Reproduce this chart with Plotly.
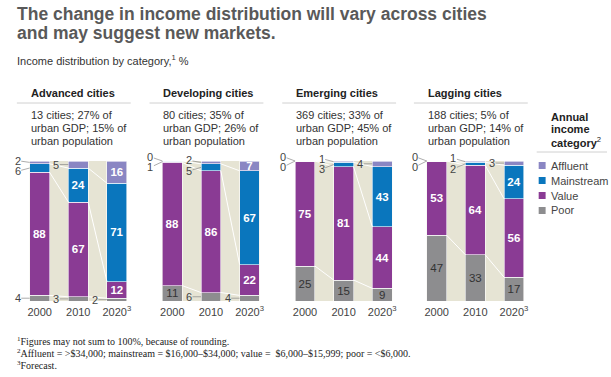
import plotly.graph_objects as go

# ---------------- data ----------------
panel_titles = ["Advanced cities", "Developing cities", "Emerging cities", "Lagging cities"]
panel_notes = [
    ["13 cities; 27% of", "urban GDP; 15% of", "urban population"],
    ["80 cities; 35% of", "urban GDP; 26% of", "urban population"],
    ["369 cities; 33% of", "urban GDP; 45% of", "urban population"],
    ["188 cities; 5% of", "urban GDP; 14% of", "urban population"],
]
years = ["2000", "2010", "2020<sup>3</sup>"]
categories = ["Poor", "Value", "Mainstream", "Affluent"]  # bottom to top
poor = [[4, 3, 2], [11, 6, 4], [25, 15, 9], [47, 33, 17]]
value = [[88, 67, 12], [88, 86, 22], [75, 81, 44], [53, 64, 56]]
mainstream = [[6, 24, 71], [1, 5, 67], [0, 3, 43], [0, 2, 24]]
affluent = [[2, 5, 16], [0, 2, 7], [0, 1, 4], [0, 1, 3]]
legend_labels = ["Affluent", "Mainstream", "Value", "Poor"]

# ---------------- styles ----------------
W, H = 611, 377
FONT = "Liberation Sans, Arial, Helvetica, sans-serif"
SERIF = "Liberation Serif, Times New Roman, serif"
colors = {"Poor": "#8D8D8F", "Value": "#8A3B94", "Mainstream": "#0A76BD", "Affluent": "#8A86C3"}
BG = "#E6E4D4"
panel_left = [28, 162, 296, 429]
panel_w = 98
plot_top, plot_bot = 161, 301
bw = 20 / 39.0
px_per_unit = (plot_bot - plot_top) / 100.0
series = {"Poor": poor, "Value": value, "Mainstream": mainstream, "Affluent": affluent}


def px(x):
    return x / W


def py(y):
    return 1 - y / H


fig = go.Figure()
annotations = []
shapes = []
layout_axes = {}

for p in range(4):
    k = p + 1
    xa = "x" if k == 1 else f"x{k}"
    ya = "y" if k == 1 else f"y{k}"
    left = panel_left[p]
    layout_axes["xaxis" if k == 1 else f"xaxis{k}"] = dict(
        domain=[px(left), px(left + panel_w)], range=[-bw / 2, 2 + bw / 2],
        tickvals=[0, 1, 2], ticktext=years, showgrid=False, zeroline=False,
        showline=False, ticks="", ticklabelstandoff=3,
        tickfont=dict(family=FONT, size=11, color="#444"),
        anchor=ya, fixedrange=True)
    layout_axes["yaxis" if k == 1 else f"yaxis{k}"] = dict(
        domain=[py(plot_bot), py(plot_top)], range=[0, 100], showgrid=False,
        zeroline=False, showline=False, showticklabels=False, ticks="",
        anchor=xa, fixedrange=True)

    for c in categories:
        vals = series[c][p]
        is_poor = c == "Poor"
        fig.add_trace(go.Bar(
            x=[0, 1, 2], y=vals, width=bw, xaxis=xa, yaxis=ya,
            marker=dict(color=colors[c], line=dict(color="white", width=0.6)),
            text=[str(v) for v in vals],
            textposition=["inside" if v >= 7 else "none" for v in vals],
            insidetextanchor="middle", textangle=0,
            constraintext="none",
            textfont=dict(family=FONT, size=11.5,
                          color="#333" if is_poor else "white",
                          weight="normal" if is_poor else "bold"),
            showlegend=False, hoverinfo="skip", name=c))

    # normalised cumulative boundaries per bar
    cums = []
    centers = []
    for i in range(3):
        tot = sum(series[c][p][i] for c in categories)
        acc = 0.0
        cb, cc = [], {}
        for c in categories:
            v = series[c][p][i] / tot * 100
            cc[c] = acc + v / 2
            acc += v
            cb.append(acc)
        cums.append(cb)
        centers.append(cc)

    # white connector lines between bars
    for i in range(2):
        for j in range(3):
            shapes.append(dict(type="line", xref=xa, yref=ya,
                               x0=i + bw / 2, y0=cums[i][j], x1=i + 1 - bw / 2, y1=cums[i + 1][j],
                               line=dict(color="white", width=1), layer="above"))

    # outside labels for small values
    for i in range(3):
        small = {c: series[c][p][i] for c in categories if series[c][p][i] < 7}
        offs = {}
        if "Affluent" in small and "Mainstream" in small:
            ca = (100 - centers[i]["Affluent"]) * px_per_unit
            cm = (100 - centers[i]["Mainstream"]) * px_per_unit
            mid = (ca + cm) / 2
            offs["Affluent"] = (mid - 4.5) - ca
            offs["Mainstream"] = (mid + 6) - cm
        for c, v in small.items():
            annotations.append(dict(
                xref=xa, yref=ya, x=i - bw / 2, y=centers[i][c], text=str(v),
                showarrow=True, arrowhead=0, arrowwidth=0.7, arrowcolor="#888",
                ax=-12, ay=offs.get(c, 0), standoff=0, borderpad=0,
                font=dict(family=FONT, size=11, color="#444")))

    # panel title, rule and notes
    annotations.append(dict(xref="paper", yref="paper", x=px(left - 1), y=py(93),
                            xanchor="left", yanchor="middle", showarrow=False,
                            text=f"<b>{panel_titles[p]}</b>",
                            font=dict(family=FONT, size=11, color="#222")))
    shapes.append(dict(type="line", xref="paper", yref="paper",
                       x0=px(left - 13), x1=px(left + panel_w + 4), y0=py(103), y1=py(103),
                       line=dict(color="#d0d0d0", width=1)))
    for li, line in enumerate(panel_notes[p]):
        annotations.append(dict(xref="paper", yref="paper", x=px(left - 1), y=py(115 + 13 * li),
                                xanchor="left", yanchor="middle", showarrow=False, text=line,
                                font=dict(family=FONT, size=11, color="#333")))

# main title and subtitle
annotations.append(dict(xref="paper", yref="paper", x=px(13), y=py(14), xanchor="left",
                        yanchor="middle", showarrow=False,
                        text="<b>The change in income distribution will vary across cities</b>",
                        font=dict(family=FONT, size=17.5, color="#595959")))
annotations.append(dict(xref="paper", yref="paper", x=px(13), y=py(33), xanchor="left",
                        yanchor="middle", showarrow=False,
                        text="<b>and may suggest new markets.</b>",
                        font=dict(family=FONT, size=17.5, color="#595959")))
annotations.append(dict(xref="paper", yref="paper", x=px(13), y=py(60), xanchor="left",
                        yanchor="middle", showarrow=False,
                        text="Income distribution by category,<sup>1</sup> %",
                        font=dict(family=FONT, size=11, color="#333")))

# legend (manual)
for li, line in enumerate(["<b>Annual</b>", "<b>income</b>", "<b>category</b><sup>2</sup>"]):
    annotations.append(dict(xref="paper", yref="paper", x=px(552), y=py(117 + 12.5 * li),
                            xanchor="left", yanchor="middle", showarrow=False, text=line,
                            font=dict(family=FONT, size=11, color="#222")))
shapes.append(dict(type="line", xref="paper", yref="paper", x0=px(540), x1=px(611),
                   y0=py(152), y1=py(152), line=dict(color="#d0d0d0", width=1)))
for li, lab in enumerate(legend_labels):
    cy = 165.5 + 15 * li
    shapes.append(dict(type="rect", xref="paper", yref="paper", x0=px(542), x1=px(549),
                       y0=py(cy - 3.5), y1=py(cy + 3.5), fillcolor=colors[lab],
                       line=dict(width=0)))
    annotations.append(dict(xref="paper", yref="paper", x=px(552), y=py(cy), xanchor="left",
                            yanchor="middle", showarrow=False, text=lab,
                            font=dict(family=FONT, size=11, color="#444")))

# footnotes
footnotes = [
    "<sup>1</sup>Figures may not sum to 100%, because of rounding.",
    "<sup>2</sup>Affluent = &gt;$34,000; mainstream = $16,000–$34,000; value =  $6,000–$15,999; poor = &lt;$6,000.",
    "<sup>3</sup>Forecast.",
]
for li, t in enumerate(footnotes):
    annotations.append(dict(xref="paper", yref="paper", x=px(13), y=py(341 + 12 * li),
                            xanchor="left", yanchor="middle", showarrow=False, text=t,
                            font=dict(family=SERIF, size=10, color="#222")))

fig.update_layout(
    width=W, height=H, autosize=False,
    margin=dict(l=0, r=0, t=0, b=0),
    paper_bgcolor="white", plot_bgcolor=BG,
    barmode="stack", barnorm="percent",
    uniformtext=dict(minsize=11, mode="show"),
    showlegend=False,
    annotations=annotations, shapes=shapes,
    font=dict(family=FONT),
    **layout_axes,
)

fig.write_html("out.html", config={"displayModeBar": False},
               post_script="document.body.style.margin='0';document.body.style.overflow='hidden';")
